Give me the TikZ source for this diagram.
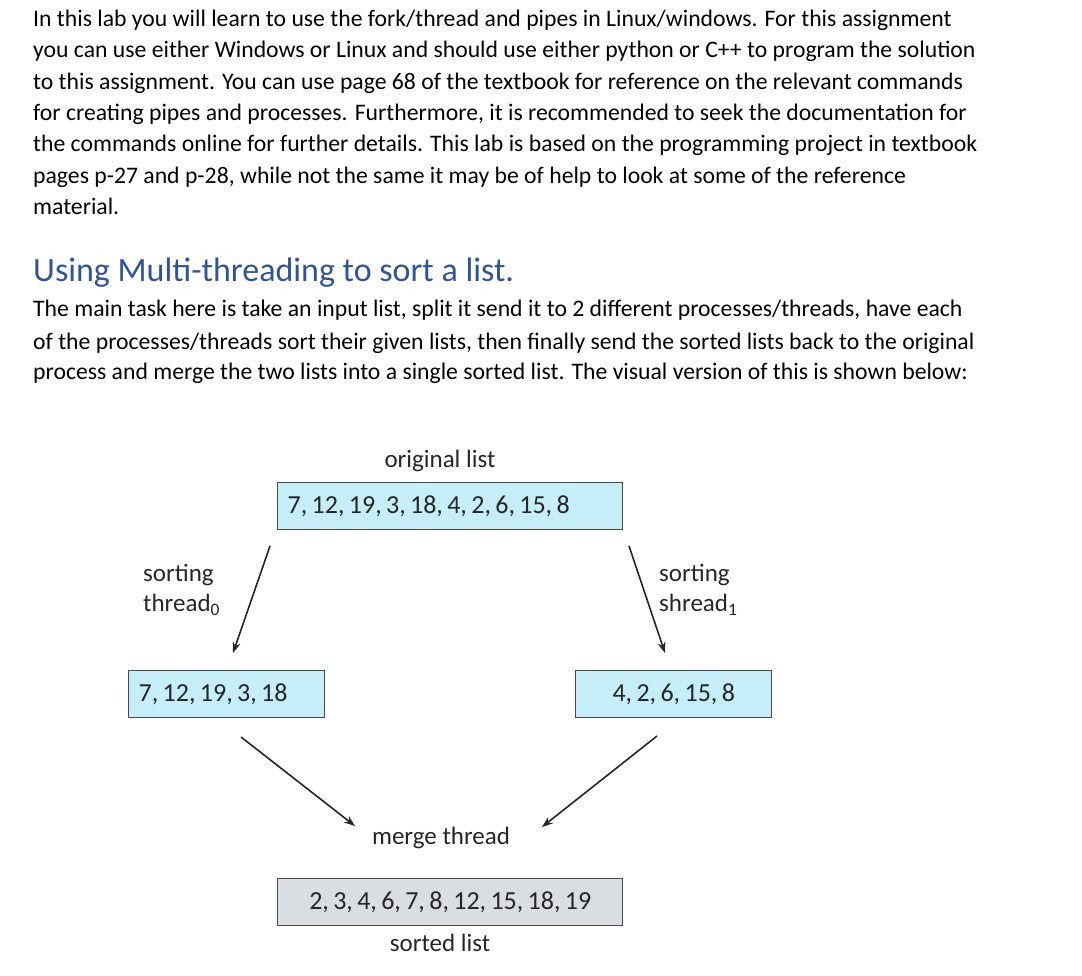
\documentclass[tikz,border=0pt]{standalone}
\usepackage{fontspec}
\setmainfont{Carlito}
\usetikzlibrary{arrows.meta}
\definecolor{headblue}{HTML}{2F5597}
\definecolor{boxcyan}{HTML}{C6EEF8}
\definecolor{boxgray}{HTML}{DADDE1}
\definecolor{edge}{HTML}{4A4A4A}
\tikzset{
  body/.style={anchor=base west,inner sep=0pt,font=\fontsize{23.7}{28}\selectfont},
  lbl/.style={inner sep=0pt,font=\fontsize{25}{30}\selectfont,text=black!85},
  listbox/.style={draw=edge,line width=1.4pt,fill=boxcyan,minimum height=47pt,font=\fontsize{26}{30}\selectfont,text=black!85},
  arr/.style={-{Stealth[length=11pt,width=8pt]},line width=1.6pt,black!85}
}
\begin{document}
\begin{tikzpicture}[x=1pt,y=-1pt]
\useasboundingbox (0,0) rectangle (1082,976);
\node[body] (p1) at (33,27) {In this lab you will learn to use the fork/thread and pipes in Linux/windows. For this assignment};
\node[body] (p2) at (33,58) {you can use either Windows or Linux and should use either python or C++ to program the solution};
\node[body] (p3) at (33,90) {to this assignment. You can use page 68 of the textbook for reference on the relevant commands};
\node[body] (p4) at (33,121) {for creating pipes and processes. Furthermore, it is recommended to seek the documentation for};
\node[body] (p5) at (33,152) {the commands online for further details. This lab is based on the programming project in textbook};
\node[body] (p6) at (33,184) {pages p-27 and p-28, while not the same it may be of help to look at some of the reference};
\node[body] (p7) at (33,215) {material.};
\node[body,font=\fontsize{34}{40}\selectfont,text=headblue] (h) at (33,282) {Using Multi-threading to sort a list.};
\node[body] (q1) at (33,317) {The main task here is take an input list, split it send it to 2 different processes/threads, have each};
\node[body] (q2) at (33,349) {of the processes/threads sort their given lists, then finally send the sorted lists back to the original};
\node[body] (q3) at (33,380) {process and merge the two lists into a single sorted list. The visual version of this is shown below:};

\node[listbox,minimum width=345pt,anchor=north west,align=left,text width=325pt] (orig) at (277,482) {7,\,12,\,19,\,3,\,18,\,4,\,2,\,6,\,15,\,8};
\node[lbl] (origl) at (440,461) {original list};
\node[listbox,minimum width=196pt,anchor=north west,align=left,text width=176pt] (left) at (128,670) {7,\,12,\,19,\,3,\,18};
\node[listbox,minimum width=196pt,anchor=north west] (right) at (575,670) {4,\,2,\,6,\,15,\,8};
\node[listbox,minimum width=345pt,anchor=north west,fill=boxgray] (merge) at (277,878) {2,\,3,\,4,\,6,\,7,\,8,\,12,\,15,\,18,\,19};
\node[lbl] (mergel) at (441,838) {merge thread};
\node[lbl] (sortl) at (440,943) {sorted list};
\node[lbl,anchor=west,align=left] (t0) at (143,590) {sorting\\thread\textsubscript{0}};
\node[lbl,anchor=west,align=left] (t1) at (659,590) {sorting\\shread\textsubscript{1}};

\coordinate (a1) at (270,546); \coordinate (b1) at (233,653);
\coordinate (a2) at (629,546); \coordinate (b2) at (665,653);
\coordinate (a3) at (241,737); \coordinate (b3) at (355,826);
\coordinate (a4) at (657,736); \coordinate (b4) at (542,827);
\draw[arr] (a1) -- (b1);
\draw[arr] (a2) -- (b2);
\draw[arr] (a3) -- (b3);
\draw[arr] (a4) -- (b4);
\end{tikzpicture}
\end{document}
